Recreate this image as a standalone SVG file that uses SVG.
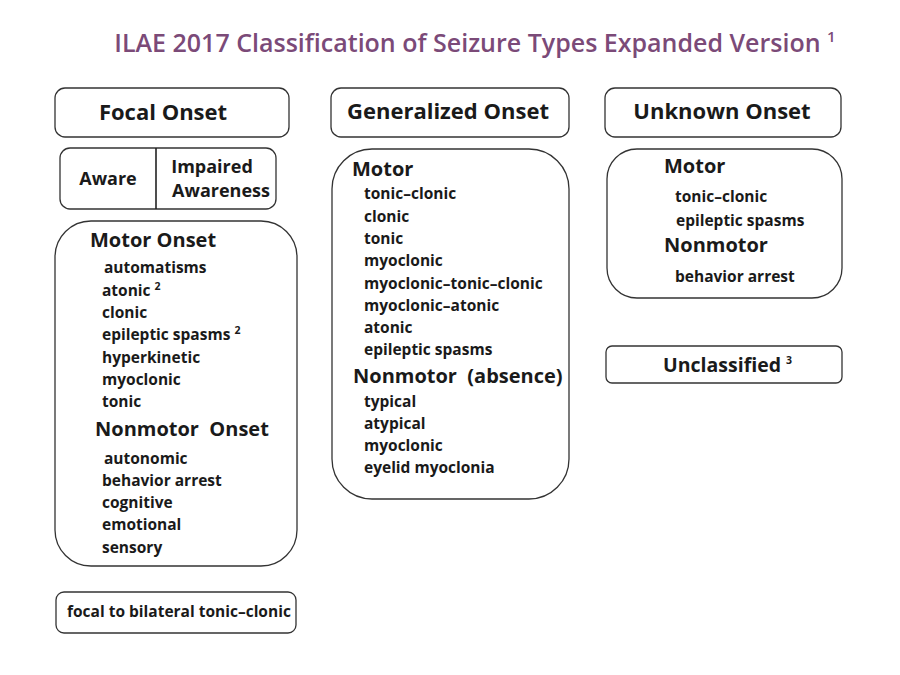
<svg xmlns="http://www.w3.org/2000/svg" width="900" height="675" viewBox="0 0 900 675">
<style>
.box{fill:#fff;stroke:#333;stroke-width:1.3}
text{font-family:"Open Sans",Lato,"Liberation Sans",sans-serif;fill:#1a1a1a;font-weight:700}
.title{font-size:25px;fill:#7b4a78;font-weight:600}
.hd{font-size:22px;text-anchor:middle}
.sub{font-size:20px}
.it{font-size:15.5px}
.sm{font-size:18px}
.sup{font-size:10.5px}
</style>
<rect width="900" height="675" fill="#fff"/>
<text class="title" x="475" y="52" text-anchor="middle">ILAE 2017 Classification of Seizure Types Expanded Version <tspan class="sup" style="font-size:15px" dy="-10">1</tspan></text>

<g id="focal-onset">
<rect class="box" x="55" y="88" width="234" height="49" rx="10"/>
<text class="hd" x="163" y="120">Focal Onset</text>
</g>
<g id="generalized-onset">
<rect class="box" x="331" y="88" width="238" height="49" rx="10"/>
<text class="hd" x="448" y="119">Generalized Onset</text>
</g>
<g id="unknown-onset">
<rect class="box" x="605" y="88" width="236" height="49" rx="10"/>
<text class="hd" x="722" y="119">Unknown Onset</text>
</g>

<g id="awareness">
<rect class="box" x="60" y="148" width="216" height="61" rx="10"/>
<line x1="156" y1="148" x2="156" y2="209" stroke="#222" stroke-width="1.6"/>
<text class="sm" x="108" y="185" text-anchor="middle">Aware</text>
<text class="sm" x="212" y="173" text-anchor="middle">Impaired</text>
<text class="sm" x="221" y="197" text-anchor="middle">Awareness</text>
</g>

<g id="focal-types">
<rect class="box" x="55" y="221" width="242" height="345" rx="36"/>
<text class="sub" x="90" y="247">Motor Onset</text>
<text class="it" x="104" y="273">automatisms</text>
<text class="it" x="102" y="296">atonic <tspan class="sup" dy="-6">2</tspan></text>
<text class="it" x="102" y="318">clonic</text>
<text class="it" x="102" y="340">epileptic spasms <tspan class="sup" dy="-6">2</tspan></text>
<text class="it" x="102" y="363">hyperkinetic</text>
<text class="it" x="102" y="385">myoclonic</text>
<text class="it" x="102" y="407">tonic</text>
<text class="sub" x="95" y="436" style="white-space:pre">Nonmotor  Onset</text>
<text class="it" x="104" y="464">autonomic</text>
<text class="it" x="102" y="486">behavior arrest</text>
<text class="it" x="102" y="508">cognitive</text>
<text class="it" x="102" y="530">emotional</text>
<text class="it" x="102" y="553">sensory</text>
</g>

<g id="focal-bilateral">
<rect class="box" x="56" y="592" width="240" height="41" rx="8"/>
<text class="it" x="67" y="617">focal to bilateral tonic–clonic</text>
</g>

<g id="generalized-types">
<rect class="box" x="332" y="149" width="237" height="350" rx="40"/>
<text class="sub" x="352" y="176">Motor</text>
<text class="it" x="364" y="199">tonic–clonic</text>
<text class="it" x="364" y="222">clonic</text>
<text class="it" x="364" y="244">tonic</text>
<text class="it" x="364" y="266">myoclonic</text>
<text class="it" x="364" y="289">myoclonic–tonic–clonic</text>
<text class="it" x="364" y="311">myoclonic–atonic</text>
<text class="it" x="364" y="333">atonic</text>
<text class="it" x="364" y="355">epileptic spasms</text>
<text class="sub" x="353" y="383" style="white-space:pre">Nonmotor  (absence)</text>
<text class="it" x="364" y="407">typical</text>
<text class="it" x="364" y="429">atypical</text>
<text class="it" x="364" y="451">myoclonic</text>
<text class="it" x="364" y="473">eyelid myoclonia</text>
</g>

<g id="unknown-types">
<rect class="box" x="607" y="149" width="235" height="149" rx="30"/>
<text class="sub" x="664" y="173">Motor</text>
<text class="it" x="675" y="202">tonic–clonic</text>
<text class="it" x="676" y="226">epileptic spasms</text>
<text class="sub" x="664" y="252">Nonmotor</text>
<text class="it" x="675" y="282">behavior arrest</text>
</g>

<g id="unclassified">
<rect class="box" x="606" y="346" width="236" height="37" rx="6"/>
<text class="sub" x="663" y="372" style="font-size:19.5px">Unclassified <tspan class="sup" dy="-8">3</tspan></text>
</g>

<g id="connectors"></g>
</svg>
